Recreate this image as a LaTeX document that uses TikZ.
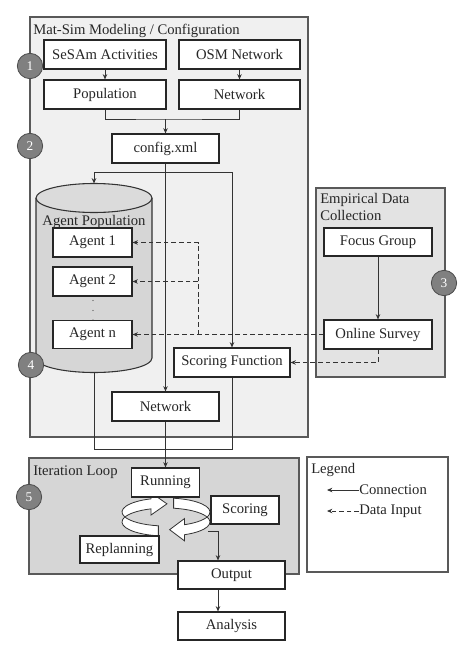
\documentclass[tikz,border=0pt]{standalone}
\usepackage{fontspec}
\setmainfont{Liberation Serif}
\usetikzlibrary{arrows.meta,calc}
\begin{document}
\begin{tikzpicture}[x=0.75pt,y=-0.75pt,
  box/.style={draw=black!85, fill=white, line width=0.8pt, inner sep=0pt, font=\fontsize{11}{13}\selectfont, text=black!85},
  wh/.style 2 args={minimum width=#1*0.75pt, minimum height=#2*0.75pt},
  cont/.style={draw=black!65, line width=0.8pt},
  plain/.style={draw=black!80, line width=0.65pt},
  conn/.style={plain, -{Stealth[length=4pt,width=3.4pt]}},
  data/.style={conn, dash pattern=on 3.5pt off 2.2pt},
  marker/.style={circle, fill=black!50, draw=black!70, line width=0.6pt, minimum size=19pt, inner sep=0pt, text=white, font=\fontsize{10}{12}\selectfont},
  lbl/.style={font=\fontsize{11}{13}\selectfont, text=black!85, inner sep=0pt}
]
\useasboundingbox (0,0) rectangle (474,657);

% containers
\filldraw[cont, fill=black!6] (30,17) rectangle (308,437);
\filldraw[cont, fill=black!11] (316,188) rectangle (445,377);
\filldraw[cont, fill=black!16] (29,458) rectangle (299,574);
\filldraw[cont, fill=white] (307,457) rectangle (448,572);

\node[lbl, anchor=west] (t1) at (33,31) {Mat-Sim Modeling / Configuration};
\node[lbl, anchor=north west, align=left] (t2) at (320,193) {Empirical Data\\Collection};
\node[lbl, anchor=west] (t3) at (33,472) {Iteration Loop};
\node[lbl, anchor=west] (t4) at (311,470) {Legend};

% cylinder
\fill[black!16] (36,198) -- (36,358) arc[start angle=180,end angle=360,x radius=43.5pt,y radius=10.875pt] -- (152,198) -- cycle;
\draw[plain, line width=0.8pt] (36,198) -- (36,358) arc[start angle=180,end angle=360,x radius=43.5pt,y radius=10.875pt] -- (152,198);
\filldraw[plain, line width=0.8pt, fill=black!14] (94,198) ellipse [x radius=43.5pt, y radius=10.875pt];
\coordinate (cyltop) at (94,183.5);
\coordinate (cylbot) at (94,372.5);
\node[lbl] (tpop) at (94,222) {Agent Population};

% boxes
\node[box, wh={122}{29}] (sesam) at (105,54.5) {SeSAm Activities};
\node[box, wh={121}{29}] (osm) at (239.5,54.5) {OSM Network};
\node[box, wh={122}{29}] (pop) at (105,94.5) {Population};
\node[box, wh={121}{29}] (net1) at (239.5,94.5) {Network};
\node[box, wh={107}{29}] (config) at (165.5,148.5) {config.xml};
\node[box, wh={79}{29}] (ag1) at (92.5,242.5) {Agent 1};
\node[box, wh={79}{29}] (ag2) at (92.5,281.5) {Agent 2};
\fill[black!70] (93,300.5) circle (0.55pt) (93,310.5) circle (0.55pt) (93,320) circle (0.55pt);
\node[box, wh={79}{28}] (agn) at (92.5,334.5) {Agent n};
\node[box, wh={116}{29}] (scorefn) at (232,362.5) {Scoring Function};
\node[box, wh={107}{29}] (net2) at (165.5,406.5) {Network};
\node[box, wh={108}{28}] (focus) at (378,242) {Focus Group};
\node[box, wh={108}{29}] (survey) at (378,334.5) {Online Survey};

% connectors upper part
\draw[conn] (sesam) -- (pop);
\draw[conn] (osm) -- (net1);
\coordinate (j1) at (165.5,119);
\draw[plain] (pop.south) |- (j1) -| (net1.south);
\draw[conn] (j1) -- (config.north);
\coordinate (j2) at (165.5,172);
\draw[conn] (config.south) -- (net2.north);
\draw[conn] (j2) -| (cyltop);
\draw[conn] (j2) -| (scorefn.north);
\coordinate (jb) at (94,449);
\draw[plain] (cylbot) -- (jb) -| (scorefn.south);
\draw[conn] (focus) -- (survey);
\draw[data] (survey.west) -- (agn.east);
\coordinate (dv) at (198,334.5);
\draw[data] (dv) |- (ag1.east);
\draw[data] (dv |- ag2.east) -- (ag2.east);
\draw[data] (survey.south) |- (scorefn.east);

% cycle arrows
\coordinate (cc) at (166,512);
\filldraw[fill=white, draw=black!80, line width=0.6pt]
  ($(cc)+(110:33pt and 10.5pt)$) arc[start angle=110,end angle=260,x radius=33pt,y radius=10.5pt]
  -- ++(0,10) arc[start angle=260,end angle=110,x radius=33pt,y radius=10.5pt]
  -- ++(0,6.2) -- ++(16,-11.2) -- ++(-16,-11.2) -- cycle;
\filldraw[fill=white, draw=black!80, line width=0.6pt]
  ($(cc)+(80:33pt and 10.5pt)$) arc[start angle=80,end angle=-65,x radius=33pt,y radius=10.5pt]
  -- ++(0,-6.2) -- ++(-15,11.2) -- ++(15,11.2) -- ++(0,-6.2)
  arc[start angle=-65,end angle=80,x radius=33pt,y radius=10.5pt] -- cycle;

% iteration boxes
\node[box, wh={68}{29}] (run) at (165.5,482.5) {Running};
\node[box, wh={68}{28}] (score) at (245,510) {Scoring};
\node[box, wh={79}{27}] (replan) at (119.5,549.5) {Replanning};
\node[box, wh={107}{28}] (output) at (231.5,575) {Output};
\node[box, wh={107}{28}] (analysis) at (231.5,626) {Analysis};

\draw[conn] (net2.south) -- (run.north);
\coordinate (cy) at (208,531);
\coordinate (ox) at (218,540);
\draw[conn] (cy) -| (ox |- output.north);
\draw[conn] (output.south -| ox) -- (analysis.north -| ox);

% legend
\node[lbl, anchor=west] (lc) at (359,490) {Connection};
\node[lbl, anchor=west] (ld) at (359,511) {Data Input};
\coordinate (lc0) at (327,490);
\coordinate (ld0) at (327,511);
\draw[conn] (lc.west) -- (lc0);
\draw[data] (ld.west) -- (ld0);

% markers
\node[marker] (m1) at (30,66) {1};
\node[marker] (m2) at (30,146) {2};
\node[marker] (m3) at (444,283) {3};
\node[marker] (m4) at (31,365) {4};
\node[marker] (m5) at (29,497) {5};
\end{tikzpicture}
\end{document}
